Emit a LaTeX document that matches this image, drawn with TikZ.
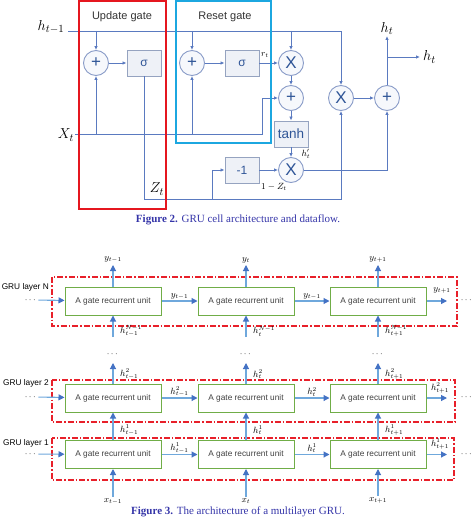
\documentclass[tikz,border=0pt]{standalone}
\usepackage{fontspec}
\setmainfont{Liberation Serif}
\setsansfont{Liberation Sans}
\usepackage{amsmath,amssymb}
\usetikzlibrary{arrows.meta}
\definecolor{flow}{HTML}{5A7AC0}
\definecolor{opedge}{HTML}{8A9CC8}
\definecolor{opfill}{HTML}{F6F8FC}
\definecolor{boxfill}{HTML}{EEF1F7}
\definecolor{boxedge}{HTML}{95A3C0}
\definecolor{optext}{HTML}{2F5597}
\definecolor{gatered}{HTML}{E5171F}
\definecolor{gatecyan}{HTML}{1CA7E0}
\definecolor{capblue}{HTML}{3434A8}
\definecolor{unitgreen}{HTML}{70AD47}
\definecolor{layerred}{HTML}{E8202A}
\definecolor{arrline}{HTML}{6FA8DC}
\definecolor{arrtip}{HTML}{4472C4}
\newcommand{\gru}{A gate recurrent unit}

\begin{document}
\begin{tikzpicture}[x=1pt, y=-1pt,
	opcirc/.style={circle, draw=opedge, fill=opfill, line width=0.9pt, minimum size=25pt, inner sep=0pt, text=optext, font=\sffamily\fontsize{17}{17}\selectfont},
	opbox/.style={rectangle, draw=boxedge, fill=boxfill, line width=0.9pt, minimum width=34pt, minimum height=26pt, inner sep=0pt, text=optext, font=\sffamily\fontsize{12}{12}\selectfont},
	flowarrow/.style={flow, line width=0.9pt, -{Latex[length=4pt,width=3.5pt]}},
	gatetitle/.style={font=\sffamily\fontsize{11}{11}\selectfont, text=black!80},
	biglbl/.style={font=\fontsize{15}{15}\selectfont, inner sep=1pt},
	smalllbl/.style={font=\fontsize{9}{9}\selectfont, inner sep=1pt},
	unit/.style={rectangle, draw=unitgreen, line width=1pt, minimum width=96pt, minimum height=28pt, font=\sffamily\fontsize{8.3}{9}\selectfont, text=black!75},
	layerlbl/.style={font=\sffamily\fontsize{8.3}{9}\selectfont, anchor=east, inner sep=0pt},
	layerframe/.style={draw=layerred, line width=1.2pt, dash pattern=on 6pt off 2pt on 1.5pt off 2pt},
	uarrow/.style={arrline, line width=1.1pt, -{Triangle[length=6pt,width=6pt,color=arrtip]}},
	mlbl/.style={font=\fontsize{9}{9}\selectfont, inner sep=1pt, text=black},
	dotsn/.style={font=\fontsize{9}{9}\selectfont, inner sep=1pt},
	caption/.style={text=capblue, font=\fontsize{11}{12}\selectfont}]
\useasboundingbox (0,0) rectangle (474,519);

% GRU cell
\draw (96,63) node[opcirc] (add1) {+};
\draw (144,63) node[opbox] (sig1) {σ};
\draw (192,63) node[opcirc] (add2) {+};
\draw (242,63) node[opbox] (sig2) {σ};
\draw (291,63) node[opcirc] (mul1) {X};
\draw (291,98) node[opcirc] (add3) {+};
\draw (291,134) node[opbox, font=\sffamily\fontsize{13.5}{14}\selectfont] (tanhbox) {tanh};
\draw (291,170) node[opcirc] (mul2) {X};
\draw (242,170) node[opbox] (neg) {-1};
\draw (341,98) node[opcirc] (mul3) {X};
\draw (387,98) node[opcirc] (add4) {+};

\draw (122,17) node[gatetitle] (updlbl) {Update gate};
\draw (225,17) node[gatetitle] (reslbl) {Reset gate};
\draw (51,27) node[biglbl] (hprev) {$h_{t-1}$};
\draw (66,135) node[biglbl] (xt) {$X_t$};
\draw (157,189) node[biglbl] (zt) {$Z_t$};
\draw (265,55) node[smalllbl] (rt) {$r_t$};
\draw (306,154) node[smalllbl] (hprime) {$h'_t$};
\draw (274,187) node[smalllbl] (onemz) {$1-Z_t$};
\draw (387,36) node[biglbl, anchor=south] (htop) {$h_t$};
\draw (420,57) node[biglbl, anchor=west, inner sep=3pt] (hout) {$h_t$};

\coordinate (hin) at (68,31);
\coordinate (xin) at (75,134);
\coordinate (xturn) at (262,134);
\coordinate (zb) at (341,199);
\coordinate (zj) at (212,199);
\coordinate (hsplit) at (387,57);

\draw[flowarrow] (hin) -| (mul3);
\draw[flowarrow] (add1 |- hin) -- (add1);
\draw[flowarrow] (add2 |- hin) -- (add2);
\draw[flowarrow] (mul1 |- hin) -- (mul1);
\draw[flowarrow] (xin) -- (xturn) |- (add3);
\draw[flowarrow] (add1 |- xin) -- (add1);
\draw[flowarrow] (add2 |- xin) -- (add2);
\draw[flowarrow] (add1) -- (sig1);
\draw[flowarrow] (add2) -- (sig2);
\draw[flowarrow] (sig2) -- (mul1);
\draw[flowarrow] (mul1) -- (add3);
\draw[flowarrow] (add3) -- (tanhbox);
\draw[flowarrow] (tanhbox) -- (mul2);
\draw[flowarrow] (sig1) |- (zb) -- (mul3);
\draw[flowarrow] (zj) |- (neg);
\draw[flowarrow] (neg) -- (mul2);
\draw[flowarrow] (mul2) -| (add4);
\draw[flowarrow] (mul3) -- (add4);
\draw[flowarrow] (add4) -- (htop);
\draw[flowarrow] (hsplit) -- (hout);

\draw[gatered, line width=2pt] (79,1) rectangle (166,209);
\draw[gatecyan, line width=2pt] (176,1) rectangle (271,143);

\draw (238,220) node[caption] (cap2) {\textbf{Figure 2.} GRU cell architecture and dataflow.};

% multilayer GRU
\draw[layerframe] (52,277) rectangle (457,326);
\draw[layerframe] (52,380) rectangle (455,422);
\draw[layerframe] (52,438) rectangle (454,480);

\draw (49,287) node[layerlbl] (layN) {GRU layer N};
\draw (49,383) node[layerlbl] (lay2) {GRU layer 2};
\draw (49,443) node[layerlbl] (lay1) {GRU layer 1};

\draw (113,301) node[unit] (gN1) {\gru};
\draw (246,301) node[unit] (gN2) {\gru};
\draw (378,301) node[unit] (gN3) {\gru};
\draw (113,398) node[unit] (g21) {\gru};
\draw (246,398) node[unit] (g22) {\gru};
\draw (378,398) node[unit] (g23) {\gru};
\draw (113,454.5) node[unit] (g11) {\gru};
\draw (246,454.5) node[unit] (g12) {\gru};
\draw (378,454.5) node[unit] (g13) {\gru};

% layer N
\draw (31,300) node[dotsn] (dNl) {$\cdots$};
\draw (467,300) node[dotsn] (dNr) {$\cdots$};
\coordinate (oN) at (447,301);
\draw[uarrow] (dNl) -- (gN1);
\draw[uarrow] (gN1) -- (gN2) node[midway, above, mlbl] {$y_{t-1}$};
\draw[uarrow] (gN2) -- (gN3) node[midway, above, mlbl] {$y_{t-1}$};
\draw[uarrow] (gN3) -- (oN);
\draw (442,290) node[mlbl] (yoN) {$y_{t+1}$};
\draw (113,265) node[mlbl, anchor=south, inner sep=2pt] (yN1) {$y_{t-1}$};
\draw (246,265) node[mlbl, anchor=south, inner sep=2pt] (yN2) {$y_{t}$};
\draw (378,265) node[mlbl, anchor=south, inner sep=2pt] (yN3) {$y_{t+1}$};
\draw[uarrow] (gN1) -- (yN1);
\draw[uarrow] (gN2) -- (yN2);
\draw[uarrow] (gN3) -- (yN3);
\coordinate (iN1) at (113,337);
\coordinate (iN2) at (246,337);
\coordinate (iN3) at (378,337);
\draw[uarrow] (iN1) -- (gN1);
\draw[uarrow] (iN2) -- (gN2);
\draw[uarrow] (iN3) -- (gN3);
\draw (119,331) node[mlbl, anchor=west] (hN1) {$h^{N-1}_{t-1}$};
\draw (252,331) node[mlbl, anchor=west] (hN2) {$h^{N-1}_{t}$};
\draw (384,331) node[mlbl, anchor=west] (hN3) {$h^{N-1}_{t+1}$};
\draw (113,354) node[dotsn] (dv1) {$\cdots$};
\draw (246,354) node[dotsn] (dv2) {$\cdots$};
\draw (378,354) node[dotsn] (dv3) {$\cdots$};

% layer 2
\draw (31,397) node[dotsn] (d2l) {$\cdots$};
\draw (467,397) node[dotsn] (d2r) {$\cdots$};
\coordinate (o2) at (447,398);
\draw[uarrow] (d2l) -- (g21);
\draw[uarrow] (g21) -- (g22) node[midway, above, mlbl] {$h^2_{t-1}$};
\draw[uarrow] (g22) -- (g23) node[midway, above, mlbl] {$h^2_{t}$};
\draw[uarrow] (g23) -- (o2);
\draw (440,388) node[mlbl] (ho2) {$h^2_{t+1}$};
\coordinate (t21) at (113,363);
\coordinate (t22) at (246,363);
\coordinate (t23) at (378,363);
\draw[uarrow] (g21) -- (t21);
\draw[uarrow] (g22) -- (t22);
\draw[uarrow] (g23) -- (t23);
\draw (119,374) node[mlbl, anchor=west] (h21) {$h^2_{t-1}$};
\draw (252,374) node[mlbl, anchor=west] (h22) {$h^2_{t}$};
\draw (384,374) node[mlbl, anchor=west] (h23) {$h^2_{t+1}$};

% layer 1
\draw (31,454) node[dotsn] (d1l) {$\cdots$};
\draw (467,454) node[dotsn] (d1r) {$\cdots$};
\coordinate (o1) at (447,454.5);
\draw[uarrow] (d1l) -- (g11);
\draw[uarrow] (g11) -- (g12) node[midway, above, mlbl] {$h^1_{t-1}$};
\draw[uarrow] (g12) -- (g13) node[midway, above, mlbl] {$h^1_{t}$};
\draw[uarrow] (g13) -- (o1);
\draw (440,444) node[mlbl] (ho1) {$h^1_{t+1}$};
\draw[uarrow] (g11) -- (g21);
\draw[uarrow] (g12) -- (g22);
\draw[uarrow] (g13) -- (g23);
\draw (119,430) node[mlbl, anchor=west] (h11) {$h^1_{t-1}$};
\draw (252,430) node[mlbl, anchor=west] (h12) {$h^1_{t}$};
\draw (384,430) node[mlbl, anchor=west] (h13) {$h^1_{t+1}$};
\draw (113,501) node[mlbl] (x1) {$x_{t-1}$};
\draw (246,501) node[mlbl] (x2) {$x_{t}$};
\draw (378,500) node[mlbl] (x3) {$x_{t+1}$};
\draw[uarrow] (x1) -- (g11);
\draw[uarrow] (x2) -- (g12);
\draw[uarrow] (x3) -- (g13);

\draw (238,512) node[caption] (cap3) {\textbf{Figure 3.} The architecture of a multilayer GRU.};
\end{tikzpicture}
\end{document}
